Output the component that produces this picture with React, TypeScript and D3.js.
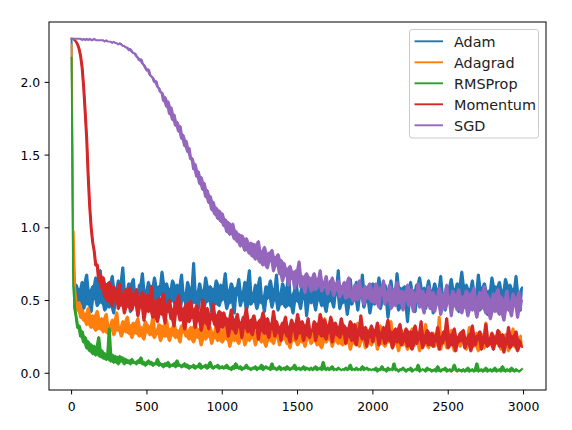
import * as d3 from "d3";

const optimizers = ["Adam", "Adagrad", "RMSProp", "Momentum", "SGD"];
const colors = ["#1f77b4", "#ff7f0e", "#2ca02c", "#d62728", "#9467bd"];
const xTicks = [0, 500, 1000, 1500, 2000, 2500, 3000];
const yTicks = [0, 0.5, 1.0, 1.5, 2.0];
const logEvery = 10;

const adam = [
  2.30, 0.74, 0.52, 0.61, 0.45, 0.58, 0.49, 0.63, 0.44, 0.55, 0.68, 0.47, 0.57, 0.42, 0.60, 0.51, 0.66, 0.46, 0.54, 0.71,
  0.48, 0.59, 0.43, 0.56, 0.62, 0.45, 0.53, 0.67, 0.41, 0.58, 0.50, 0.64, 0.46, 0.55, 0.73, 0.44, 0.57, 0.49, 0.62, 0.42,
  0.56, 0.65, 0.47, 0.53, 0.40, 0.61, 0.50, 0.69, 0.45, 0.57, 0.52, 0.63, 0.43, 0.59, 0.48, 0.66, 0.51, 0.44, 0.60, 0.54,
  0.70, 0.46, 0.55, 0.62, 0.42, 0.58, 0.49, 0.64, 0.53, 0.45, 0.61, 0.57, 0.41, 0.68, 0.50, 0.55, 0.47, 0.63, 0.52, 0.44,
  0.59, 0.76, 0.48, 0.56, 0.43, 0.62, 0.51, 0.57, 0.45, 0.66, 0.49, 0.54, 0.60, 0.42, 0.58, 0.47, 0.64, 0.53, 0.46, 0.61,
  0.50, 0.55, 0.69, 0.44, 0.57, 0.48, 0.62, 0.52, 0.41, 0.59, 0.54, 0.65, 0.46, 0.56, 0.50, 0.63, 0.43, 0.58, 0.71, 0.47,
  0.55, 0.49, 0.61, 0.44, 0.57, 0.66, 0.48, 0.53, 0.42, 0.60, 0.51, 0.56, 0.64, 0.45, 0.58, 0.50, 0.68, 0.43, 0.55, 0.47,
  0.62, 0.52, 0.45, 0.59, 0.70, 0.46, 0.54, 0.41, 0.57, 0.63, 0.49, 0.55, 0.44, 0.61, 0.51, 0.58, 0.39, 0.56, 0.65, 0.48,
  0.53, 0.60, 0.43, 0.57, 0.50, 0.67, 0.46, 0.55, 0.62, 0.42, 0.58, 0.49, 0.64, 0.52, 0.45, 0.59, 0.54, 0.71, 0.44, 0.56,
  0.48, 0.61, 0.53, 0.40, 0.58, 0.65, 0.47, 0.55, 0.50, 0.63, 0.43, 0.57, 0.52, 0.68, 0.45, 0.56, 0.49, 0.60, 0.41, 0.54,
  0.62, 0.47, 0.56, 0.51, 0.66, 0.44, 0.58, 0.49, 0.61, 0.53, 0.38, 0.57, 0.64, 0.46, 0.55, 0.50, 0.69, 0.43, 0.59, 0.52,
  0.45, 0.60, 0.54, 0.35, 0.57, 0.63, 0.48, 0.56, 0.42, 0.61, 0.51, 0.66, 0.46, 0.55, 0.59, 0.44, 0.53, 0.64, 0.49, 0.57,
  0.41, 0.62, 0.52, 0.58, 0.47, 0.67, 0.50, 0.55, 0.43, 0.60, 0.54, 0.48, 0.65, 0.45, 0.58, 0.51, 0.62, 0.42, 0.56, 0.70,
  0.47, 0.55, 0.61, 0.44, 0.58, 0.50, 0.64, 0.46, 0.56, 0.52, 0.68, 0.43, 0.59, 0.49, 0.62, 0.54, 0.40, 0.57, 0.51, 0.66,
  0.45, 0.60, 0.53, 0.48, 0.63, 0.42, 0.57, 0.51, 0.65, 0.46, 0.55, 0.61, 0.44, 0.58, 0.50, 0.67, 0.47, 0.56, 0.43, 0.59,
];

const adagrad = [
  2.26, 0.98, 0.58, 0.47, 0.43, 0.49, 0.38, 0.44, 0.36, 0.41, 0.33, 0.45, 0.37, 0.31, 0.40, 0.35, 0.29, 0.43, 0.34, 0.30,
  0.38, 0.28, 0.35, 0.41, 0.27, 0.33, 0.30, 0.37, 0.26, 0.34, 0.42, 0.29, 0.32, 0.25, 0.36, 0.31, 0.28, 0.39, 0.27, 0.33,
  0.24, 0.35, 0.30, 0.27, 0.38, 0.25, 0.32, 0.29, 0.23, 0.36, 0.28, 0.33, 0.26, 0.31, 0.40, 0.24, 0.30, 0.27, 0.34, 0.22,
  0.29, 0.33, 0.25, 0.37, 0.28, 0.22, 0.31, 0.26, 0.35, 0.24, 0.30, 0.27, 0.21, 0.33, 0.28, 0.39, 0.25, 0.29, 0.23, 0.32,
  0.26, 0.21, 0.34, 0.28, 0.24, 0.31, 0.19, 0.27, 0.36, 0.23, 0.29, 0.25, 0.32, 0.20, 0.28, 0.24, 0.35, 0.22, 0.27, 0.30,
  0.21, 0.26, 0.33, 0.23, 0.29, 0.18, 0.27, 0.31, 0.22, 0.25, 0.37, 0.20, 0.28, 0.24, 0.30, 0.19, 0.26, 0.33, 0.22, 0.28,
  0.24, 0.30, 0.19, 0.27, 0.23, 0.34, 0.21, 0.26, 0.29, 0.18, 0.25, 0.31, 0.22, 0.28, 0.20, 0.36, 0.24, 0.27, 0.19, 0.29,
  0.23, 0.26, 0.32, 0.20, 0.28, 0.17, 0.25, 0.30, 0.22, 0.27, 0.19, 0.34, 0.24, 0.21, 0.29, 0.18, 0.26, 0.31, 0.23, 0.20,
  0.28, 0.22, 0.33, 0.19, 0.25, 0.29, 0.17, 0.24, 0.38, 0.21, 0.27, 0.23, 0.30, 0.18, 0.26, 0.22, 0.32, 0.20, 0.25, 0.28,
  0.19, 0.24, 0.31, 0.21, 0.27, 0.16, 0.25, 0.29, 0.20, 0.23, 0.35, 0.18, 0.26, 0.22, 0.28, 0.17, 0.24, 0.30, 0.21, 0.19,
  0.26, 0.22, 0.29, 0.16, 0.24, 0.33, 0.20, 0.25, 0.18, 0.28, 0.21, 0.23, 0.36, 0.17, 0.25, 0.20, 0.27, 0.15, 0.24, 0.30,
  0.19, 0.23, 0.27, 0.16, 0.25, 0.21, 0.31, 0.18, 0.24, 0.20, 0.28, 0.15, 0.23, 0.26, 0.19, 0.34, 0.21, 0.17, 0.25, 0.22,
  0.28, 0.18, 0.23, 0.20, 0.39, 0.16, 0.24, 0.21, 0.27, 0.17, 0.25, 0.19, 0.30, 0.22, 0.15, 0.26, 0.20, 0.24, 0.18, 0.29,
  0.21, 0.25, 0.16, 0.23, 0.32, 0.19, 0.26, 0.18, 0.22, 0.28, 0.15, 0.24, 0.20, 0.27, 0.17, 0.35, 0.21, 0.19, 0.25, 0.22,
  0.17, 0.26, 0.20, 0.23, 0.29, 0.16, 0.24, 0.19, 0.27, 0.21, 0.15, 0.25, 0.18, 0.31, 0.22, 0.17, 0.24, 0.20, 0.26, 0.19,
];

const rmsprop = [
  2.17, 0.60, 0.45, 0.39, 0.31, 0.33, 0.25, 0.29, 0.21, 0.25, 0.17, 0.22, 0.15, 0.20, 0.13, 0.19, 0.12, 0.16, 0.25, 0.11,
  0.16, 0.10, 0.14, 0.09, 0.13, 0.31, 0.08, 0.13, 0.07, 0.12, 0.09, 0.06, 0.12, 0.08, 0.11, 0.06, 0.10, 0.07, 0.09, 0.06,
  0.10, 0.07, 0.08, 0.06, 0.09, 0.07, 0.11, 0.06, 0.08, 0.05, 0.07, 0.09, 0.06, 0.08, 0.05, 0.07, 0.06, 0.10, 0.05, 0.07,
  0.06, 0.04, 0.07, 0.05, 0.08, 0.04, 0.06, 0.05, 0.07, 0.04, 0.09, 0.05, 0.06, 0.04, 0.05, 0.07, 0.04, 0.06, 0.03, 0.05,
  0.04, 0.06, 0.03, 0.05, 0.04, 0.07, 0.03, 0.05, 0.04, 0.06, 0.03, 0.05, 0.08, 0.04, 0.03, 0.05, 0.04, 0.06, 0.03, 0.04,
  0.05, 0.03, 0.04, 0.06, 0.03, 0.04, 0.02, 0.05, 0.03, 0.07, 0.04, 0.03, 0.05, 0.02, 0.04, 0.03, 0.06, 0.03, 0.04, 0.02,
  0.04, 0.03, 0.05, 0.02, 0.04, 0.03, 0.06, 0.02, 0.03, 0.05, 0.03, 0.04, 0.02, 0.07, 0.03, 0.04, 0.02, 0.03, 0.05, 0.02,
  0.03, 0.04, 0.02, 0.05, 0.03, 0.02, 0.04, 0.03, 0.06, 0.02, 0.03, 0.04, 0.02, 0.03, 0.05, 0.02, 0.04, 0.03, 0.02, 0.04,
  0.02, 0.03, 0.05, 0.02, 0.03, 0.04, 0.02, 0.08, 0.03, 0.02, 0.04, 0.02, 0.03, 0.05, 0.02, 0.03, 0.02, 0.04, 0.03, 0.02,
  0.03, 0.02, 0.04, 0.02, 0.03, 0.06, 0.02, 0.03, 0.02, 0.04, 0.02, 0.03, 0.02, 0.05, 0.02, 0.03, 0.04, 0.02, 0.03, 0.02,
  0.03, 0.02, 0.04, 0.01, 0.03, 0.02, 0.05, 0.02, 0.03, 0.01, 0.04, 0.02, 0.03, 0.02, 0.07, 0.02, 0.03, 0.01, 0.03, 0.02,
  0.04, 0.02, 0.01, 0.03, 0.02, 0.04, 0.01, 0.02, 0.03, 0.02, 0.06, 0.01, 0.02, 0.03, 0.02, 0.01, 0.04, 0.02, 0.03, 0.01,
  0.02, 0.03, 0.01, 0.05, 0.02, 0.01, 0.03, 0.02, 0.04, 0.01, 0.02, 0.03, 0.01, 0.02, 0.06, 0.02, 0.01, 0.03, 0.02, 0.01,
  0.03, 0.01, 0.02, 0.04, 0.01, 0.02, 0.03, 0.01, 0.02, 0.07, 0.01, 0.02, 0.03, 0.01, 0.02, 0.04, 0.01, 0.02, 0.03, 0.01,
  0.02, 0.04, 0.01, 0.02, 0.03, 0.01, 0.05, 0.02, 0.01, 0.03, 0.02, 0.01, 0.04, 0.02, 0.01, 0.03, 0.02, 0.01, 0.02, 0.03,
];

const momentum = [
  2.30, 2.30, 2.29, 2.28, 2.26, 2.23, 2.18, 2.10, 1.97, 1.80, 1.62, 1.36, 1.15, 1.00, 0.90, 0.84, 0.74, 0.75, 0.63, 0.68,
  0.58, 0.66, 0.52, 0.61, 0.49, 0.63, 0.55, 0.46, 0.60, 0.51, 0.57, 0.44, 0.62, 0.48, 0.54, 0.41, 0.58, 0.50, 0.45, 0.59,
  0.43, 0.53, 0.47, 0.58, 0.39, 0.51, 0.45, 0.56, 0.36, 0.49, 0.54, 0.42, 0.47, 0.60, 0.38, 0.50, 0.44, 0.35, 0.52, 0.46,
  0.40, 0.55, 0.34, 0.47, 0.43, 0.51, 0.37, 0.44, 0.32, 0.49, 0.41, 0.54, 0.36, 0.45, 0.39, 0.30, 0.48, 0.42, 0.35, 0.50,
  0.38, 0.44, 0.31, 0.47, 0.36, 0.42, 0.29, 0.51, 0.39, 0.34, 0.45, 0.30, 0.41, 0.37, 0.48, 0.33, 0.40, 0.28, 0.43, 0.36,
  0.31, 0.42, 0.33, 0.38, 0.25, 0.36, 0.44, 0.30, 0.37, 0.27, 0.41, 0.32, 0.35, 0.24, 0.39, 0.31, 0.45, 0.28, 0.34, 0.37,
  0.26, 0.40, 0.31, 0.35, 0.23, 0.37, 0.29, 0.42, 0.27, 0.33, 0.38, 0.24, 0.34, 0.30, 0.43, 0.25, 0.36, 0.28, 0.32, 0.22,
  0.35, 0.28, 0.39, 0.25, 0.32, 0.21, 0.37, 0.29, 0.34, 0.23, 0.41, 0.27, 0.31, 0.36, 0.22, 0.33, 0.26, 0.38, 0.24, 0.30,
  0.29, 0.36, 0.22, 0.34, 0.27, 0.41, 0.25, 0.31, 0.37, 0.23, 0.33, 0.28, 0.39, 0.21, 0.30, 0.35, 0.26, 0.32, 0.24, 0.38,
  0.27, 0.33, 0.20, 0.31, 0.25, 0.36, 0.22, 0.29, 0.34, 0.19, 0.30, 0.26, 0.40, 0.23, 0.28, 0.32, 0.18, 0.29, 0.25, 0.33,
  0.21, 0.30, 0.26, 0.35, 0.19, 0.28, 0.24, 0.32, 0.20, 0.27, 0.37, 0.22, 0.29, 0.17, 0.26, 0.31, 0.21, 0.25, 0.34, 0.19,
  0.27, 0.22, 0.31, 0.18, 0.25, 0.29, 0.16, 0.24, 0.33, 0.20, 0.28, 0.23, 0.36, 0.17, 0.26, 0.21, 0.30, 0.19, 0.24, 0.28,
  0.18, 0.26, 0.22, 0.32, 0.16, 0.25, 0.20, 0.29, 0.23, 0.38, 0.17, 0.24, 0.27, 0.19, 0.31, 0.15, 0.25, 0.21, 0.28, 0.22,
  0.30, 0.17, 0.24, 0.20, 0.27, 0.15, 0.33, 0.22, 0.19, 0.26, 0.23, 0.29, 0.16, 0.25, 0.21, 0.34, 0.18, 0.24, 0.20, 0.28,
  0.16, 0.25, 0.21, 0.30, 0.18, 0.23, 0.27, 0.14, 0.24, 0.20, 0.32, 0.17, 0.26, 0.22, 0.19, 0.29, 0.15, 0.23, 0.21, 0.18,
];

const sgd = [
  2.30, 2.30, 2.30, 2.30, 2.30, 2.30, 2.30, 2.29, 2.30, 2.29, 2.30, 2.29, 2.30, 2.29, 2.29, 2.30, 2.29, 2.29, 2.29, 2.29,
  2.29, 2.29, 2.28, 2.29, 2.28, 2.28, 2.28, 2.27, 2.28, 2.27, 2.27, 2.26, 2.27, 2.26, 2.25, 2.25, 2.24, 2.24, 2.22, 2.23,
  2.21, 2.20, 2.20, 2.18, 2.17, 2.15, 2.16, 2.13, 2.12, 2.10, 2.08, 2.09, 2.05, 2.04, 2.03, 2.00, 2.01, 1.97, 1.96, 1.93,
  1.93, 1.87, 1.90, 1.83, 1.87, 1.78, 1.83, 1.74, 1.78, 1.70, 1.73, 1.66, 1.70, 1.61, 1.64, 1.56, 1.60, 1.52, 1.55, 1.47,
  1.48, 1.40, 1.44, 1.35, 1.39, 1.30, 1.35, 1.26, 1.31, 1.21, 1.26, 1.17, 1.22, 1.12, 1.18, 1.09, 1.14, 1.06, 1.12, 1.04,
  1.10, 1.01, 1.06, 0.97, 1.04, 0.95, 0.99, 1.03, 0.92, 0.98, 0.90, 0.96, 0.87, 0.95, 0.91, 0.84, 0.93, 0.86, 0.82, 0.90,
  0.80, 0.89, 0.78, 0.86, 0.91, 0.76, 0.84, 0.74, 0.87, 0.79, 0.72, 0.83, 0.77, 0.85, 0.70, 0.80, 0.74, 0.82, 0.68, 0.78,
  0.63, 0.76, 0.67, 0.72, 0.60, 0.74, 0.65, 0.70, 0.58, 0.71, 0.63, 0.77, 0.59, 0.67, 0.62, 0.55, 0.69, 0.61, 0.66, 0.56,
  0.62, 0.69, 0.57, 0.65, 0.60, 0.71, 0.56, 0.63, 0.59, 0.67, 0.54, 0.61, 0.58, 0.66, 0.53, 0.62, 0.57, 0.64, 0.52, 0.60,
  0.55, 0.63, 0.51, 0.59, 0.66, 0.52, 0.57, 0.49, 0.61, 0.55, 0.50, 0.64, 0.53, 0.58, 0.47, 0.60, 0.54, 0.51, 0.62, 0.49,
  0.57, 0.48, 0.62, 0.52, 0.45, 0.59, 0.54, 0.64, 0.47, 0.56, 0.50, 0.61, 0.44, 0.55, 0.58, 0.46, 0.63, 0.51, 0.48, 0.57,
  0.43, 0.56, 0.50, 0.61, 0.46, 0.53, 0.58, 0.42, 0.55, 0.49, 0.62, 0.45, 0.52, 0.57, 0.41, 0.54, 0.48, 0.60, 0.44, 0.51,
  0.56, 0.42, 0.53, 0.47, 0.59, 0.40, 0.51, 0.55, 0.44, 0.61, 0.48, 0.52, 0.39, 0.57, 0.46, 0.54, 0.43, 0.58, 0.49, 0.41,
  0.53, 0.45, 0.57, 0.39, 0.50, 0.55, 0.43, 0.59, 0.47, 0.38, 0.52, 0.56, 0.44, 0.49, 0.60, 0.41, 0.54, 0.46, 0.37, 0.51,
  0.55, 0.42, 0.48, 0.58, 0.40, 0.53, 0.45, 0.36, 0.51, 0.57, 0.43, 0.49, 0.39, 0.55, 0.46, 0.52, 0.38, 0.56, 0.44, 0.50,
];

const W = 572;
const H = 430;
const box = { left: 49, right: 546, top: 22, bottom: 390 };
const fontFamily = "DejaVu Sans, sans-serif";

export default function App() {
  const series = [adam, adagrad, rmsprop, momentum, sgd];

  const x = d3.scaleLinear().domain([-150, 3149]).range([box.left, box.right]);
  const y = d3.scaleLinear().domain([-0.115, 2.415]).range([box.bottom, box.top]);

  const line = d3.line<number>()
    .x((_, i) => x(i * logEvery))
    .y(d => y(d));

  // the raw per-step curve is so dense it paints a solid band:
  // fill the span it sweeps around each logged sample
  const near = (arr: number[], i: number) =>
    [arr[i - 1], arr[i], arr[i + 1]].filter(v => v !== undefined);
  const sweep = d3.area<number>()
    .x((_, i) => x(i * logEvery))
    .y0((_, i, arr) => y(d3.min(near(arr as number[], i))!))
    .y1((_, i, arr) => y(d3.max(near(arr as number[], i))!));

  const fmtY = d3.format(".1f");

  // legend placement (upper right)
  const lg = { x: 409.5, y: 29.5, w: 129, h: 108.5, row: 21 };

  return (
    <svg
      width={W}
      height={H}
      style={{ position: "absolute", left: 0, top: 0, background: "#fff" }}
      fontFamily={fontFamily}
    >
      <rect x={0} y={0} width={W} height={H} fill="#fff" />

      {series.map((vals, k) => (
        <g key={optimizers[k]}>
          {/* skip the first sample: the initial drop is just a line */}
          <path
            d={sweep(vals.slice(1)) ?? ""}
            transform={`translate(${x(logEvery) - x(0)},0)`}
            fill={colors[k]}
            stroke="none"
          />
          <path
            d={line(vals) ?? ""}
            fill="none"
            stroke={colors[k]}
            strokeWidth={1.9}
            strokeLinejoin="round"
            strokeLinecap="square"
          />
        </g>
      ))}

      {/* axes frame */}
      <rect
        x={box.left}
        y={box.top}
        width={box.right - box.left}
        height={box.bottom - box.top}
        fill="none"
        stroke="#000"
        strokeWidth={1}
      />

      {/* x axis */}
      {xTicks.map(t => (
        <g key={"x" + t} transform={`translate(${x(t)},${box.bottom})`}>
          <line y1={0} y2={4.4} stroke="#000" strokeWidth={1} />
          <text y={20.5} textAnchor="middle" fontSize={12.4} fill="#000">{t}</text>
        </g>
      ))}

      {/* y axis */}
      {yTicks.map(t => (
        <g key={"y" + t} transform={`translate(${box.left},${y(t)})`}>
          <line x1={0} x2={-4.4} stroke="#000" strokeWidth={1} />
          <text x={-8.8} y={4.5} textAnchor="end" fontSize={12.4} fill="#000">{fmtY(t)}</text>
        </g>
      ))}

      {/* legend */}
      <rect
        x={lg.x}
        y={lg.y}
        width={lg.w}
        height={lg.h}
        rx={2.5}
        fill="#fff"
        fillOpacity={0.8}
        stroke="#cccccc"
        strokeWidth={1}
      />
      {optimizers.map((name, k) => {
        const cy = lg.y + 11.8 + k * lg.row;
        return (
          <g key={"lg" + name}>
            <line x1={lg.x + 5} x2={lg.x + 33.5} y1={cy} y2={cy} stroke={colors[k]} strokeWidth={1.9} />
            <text x={lg.x + 44.5} y={cy + 5.3} fontSize={14.4} fill="#222">{name}</text>
          </g>
        );
      })}
    </svg>
  );
}
